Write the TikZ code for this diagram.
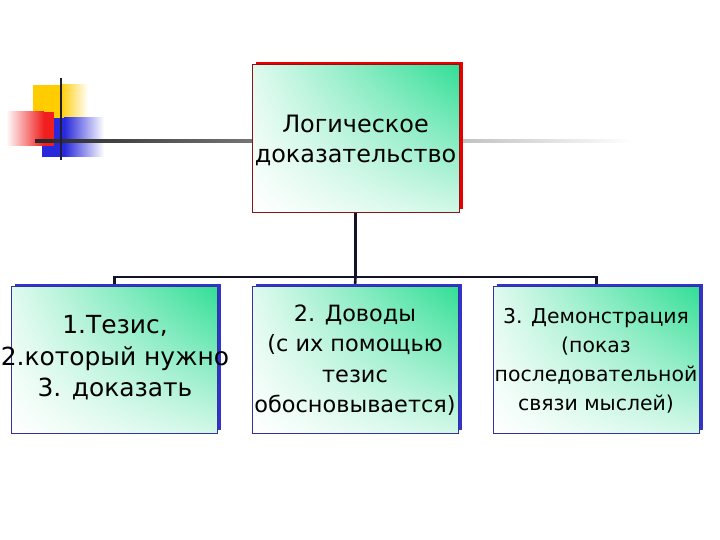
\documentclass[tikz,border=0pt]{standalone}
\usepackage{fontspec}
\setmainfont{DejaVu Sans}
\usetikzlibrary{shadows,backgrounds,shadings}
\definecolor{mint}{RGB}{50,222,150}
\definecolor{darkred}{RGB}{140,20,20}
\definecolor{shred}{RGB}{232,0,0}
\definecolor{navyb}{RGB}{51,51,153}
\definecolor{shblue}{RGB}{51,51,204}
\definecolor{conn}{RGB}{20,20,40}
\definecolor{yel}{RGB}{255,204,0}
\definecolor{redd}{RGB}{240,30,30}
\definecolor{blu}{RGB}{40,40,220}
\definecolor{decol}{RGB}{30,30,60}
\tikzset{
  gradbox/.style={shade, upper right=mint, upper left=mint!15, lower right=mint!22, lower left=white,
    inner sep=0pt, outer sep=0pt, line width=1bp},
  topbox/.style={gradbox, draw=darkred, minimum width=207bp, minimum height=147bp,
    general shadow={fill=shred, shadow xshift=3.5bp, shadow yshift=3bp}},
  subbox/.style={gradbox, draw=navyb, minimum width=206bp, minimum height=146bp,
    general shadow={fill=shblue, shadow xshift=3.5bp, shadow yshift=3bp}},
  txt/.style={align=center, inner sep=0pt, text=black},
  connector/.style={draw=conn, line width=2.6bp}
}
\begin{document}
\begin{tikzpicture}[x=1bp,y=-1bp]
\useasboundingbox (0,0) rectangle (720,540);
% decoration
\fill[yel] (33,85) rectangle (60,119);
\shade[left color=yel, right color=white] (60,85) rectangle (88,119);
\fill[blu] (42,118) rectangle (64,157);
\shade[left color=blu, right color=white] (64,118) rectangle (104,157);
\shade[left color=white, right color=redd] (6,112) rectangle (44,146);
\fill[redd] (44,112) rectangle (54,146);
\shade[left color=black!85, right color=white] (35,140) rectangle (632,142.5);
\draw[line width=2.5bp, decol] (61,78) -- (61,160);
% boxes
\node[topbox] (top) at (355.5,138.5) {};
\node[txt, font=\fontsize{24}{30}\selectfont] (ttop) at (355.5,140) {Логическое\\доказательство};
\node[subbox] (b1) at (114.5,360) {};
\node[txt, font=\fontsize{25}{31.5}\selectfont] (t1) at (115,358) {1.Тезис,\\2.который нужно\\3. доказать};
\node[subbox] (b2) at (355,360) {};
\node[txt, font=\fontsize{22.5}{30.5}\selectfont] (t2) at (355,360) {2. Доводы\\(с их помощью\\тезис\\обосновывается)};
\node[subbox] (b3) at (596.5,360) {};
\node[txt, font=\fontsize{20.5}{29}\selectfont] (t3) at (596,361) {3. Демонстрация\\(показ\\последовательной\\связи мыслей)};
% connectors
\begin{scope}[on background layer]
\fill[white] (0,0) rectangle (720,540);
\draw[connector] (top.south) -- ++(0,65) coordinate (j);
\draw[connector] (b1.north) |- (j) -| (b3.north);
\draw[connector] (j) -- (b2.north);
\end{scope}
\end{tikzpicture}
\end{document}
